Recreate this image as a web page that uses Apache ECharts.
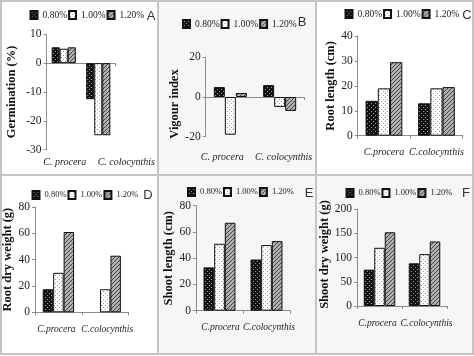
<!DOCTYPE html>
<html><head><meta charset="utf-8">
<script src="https://cdn.jsdelivr.net/npm/echarts@6/dist/echarts.min.js"></script>
<style>html,body{margin:0;padding:0;background:#fff}#c{width:474px;height:356px}</style>
</head><body><div id="c"></div>
<script>
const categoriesAB = ['C. procera', 'C. colocynthis'];
const categoriesCF = ['C.procera', 'C.colocynthis'];
const seriesNames = ['0.80%', '1.00%', '1.20%'];
// A: Germination (%)
const germ080 = [5.5, -12.5];
const germ100 = [5, -25];
const germ120 = [5.5, -25];
// B: Vigour index
const vig080 = [5, 6];
const vig100 = [-19, -5];
const vig120 = [2, -7];
// C: Root length (cm)
const rl080 = [14, 13];
const rl100 = [19, 19];
const rl120 = [29.5, 19.5];
// D: Root dry weight (g)
const rdw080 = [17.5, null];
const rdw100 = [30, 17.5];
const rdw120 = [61, 43];
// E: Shoot length (cm)
const sl080 = [33, 39];
const sl100 = [51, 50];
const sl120 = [67, 53];
// F: Shoot dry weight (g)
const sdw080 = [75, 88];
const sdw100 = [120, 107];
const sdw120 = [152, 133];

function makePattern(kind) {
  const c = document.createElement('canvas');
  c.width = 4; c.height = 4;
  const g = c.getContext('2d');
  if (kind === 0) {
    g.fillStyle = '#111'; g.fillRect(0, 0, 4, 4);
    g.fillStyle = '#9a9a9a'; g.fillRect(1, 1, 1, 1); g.fillRect(3, 3, 1, 1);
  } else if (kind === 1) {
    g.fillStyle = '#fff'; g.fillRect(0, 0, 4, 4);
    g.fillStyle = '#999'; g.fillRect(1, 1, 1, 1); g.fillRect(3, 3, 1, 1);
  } else {
    g.fillStyle = '#b0b0b0'; g.fillRect(0, 0, 4, 4);
    g.fillStyle = '#444';
    for (let i = 0; i < 4; i++) g.fillRect(i, 3 - i, 1, 1);
  }
  return { image: c, repeat: 'repeat' };
}
const patterns = [makePattern(0), makePattern(1), makePattern(2)];

const serif = 'Liberation Serif';
const panels = [
  { key: 'A', cats: categoriesAB, data: [germ080, germ100, germ120], min: -30, max: 10, interval: 10,
    name: 'Germination (%)', grid: { left: 46.5, top: 34.3, width: 69, height: 115.4 }, gap: '30%', nameGap: 28,
    zeroAxis: true, labelPad: [2, 56], labelMargin: 8, labelSize: 10, namePad: [0, 0, 0, 0],
    legend: { left: 29.5, top: 10, size: 9.5 }, letter: [151, 16] },
  { key: 'B', cats: categoriesAB, data: [vig080, vig100, vig120], min: -20, max: 20, interval: 20,
    name: 'Vigour index', grid: { left: 205.7, top: 57.3, width: 98.6, height: 79.4 }, gap: '33%', nameGap: 14,
    zeroAxis: true, labelPad: [-16, 8], labelMargin: 16, labelSize: 10, namePad: [0, 14, 0, 0],
    legend: { left: 182, top: 19, size: 9.5 }, letter: [302, 22] },
  { key: 'C', cats: categoriesCF, data: [rl080, rl100, rl120], min: 0, max: 40, interval: 10,
    name: 'Root length (cm)', grid: { left: 357.7, top: 36, width: 105, height: 99.7 }, gap: '30%', nameGap: 17,
    labelPad: [0, 0], labelMargin: 12, labelSize: 10, namePad: [0, 0, 0, 0],
    legend: { left: 344.5, top: 9, size: 9.5 }, letter: [467, 15] },
  { key: 'D', cats: categoriesCF, data: [rdw080, rdw100, rdw120], min: 0, max: 80, interval: 20,
    name: 'Root dry weight (g)', grid: { left: 35, top: 207, width: 93.6, height: 105.3 }, gap: '33%', nameGap: 12,
    labelPad: [-4, 4], labelMargin: 12, labelSize: 9.5, namePad: [0, 0, 0, 0],
    legend: { left: 31.5, top: 190, size: 8.5 }, letter: [148, 195] },
  { key: 'E', cats: categoriesCF, data: [sl080, sl100, sl120], min: 0, max: 80, interval: 20,
    name: 'Shoot length (cm)', grid: { left: 196, top: 205.7, width: 94, height: 105 }, gap: '32%', nameGap: 19,
    labelPad: [2, 5], labelMargin: 12, labelSize: 9.5, namePad: [0, 0, 0, 0],
    legend: { left: 187, top: 187, size: 8.5 }, letter: [309, 193] },
  { key: 'F', cats: categoriesCF, data: [sdw080, sdw100, sdw120], min: 0, max: 200, interval: 50,
    name: 'Shoot dry weight (g)', grid: { left: 357, top: 209, width: 90, height: 97 }, gap: '30%', nameGap: 21,
    labelPad: [-4, 4], labelMargin: 12, labelSize: 9.5, namePad: [0, 0, 0, 6],
    legend: { left: 345.5, top: 188, size: 8.5 }, letter: [466, 193] }
];

const option = { animation: false, backgroundColor: 'transparent', grid: [], xAxis: [], yAxis: [], series: [], legend: [], graphic: [] };

const bgs = [
  { x: 1, y: 1, w: 157, h: 174, c: '#ffffff' },
  { x: 158, y: 1, w: 158, h: 174, c: '#f6f6f6' },
  { x: 316, y: 1, w: 157, h: 174, c: '#ffffff' },
  { x: 1, y: 175, w: 157, h: 179, c: '#ffffff' },
  { x: 158, y: 175, w: 158, h: 179, c: '#f6f6f6' },
  { x: 316, y: 175, w: 157, h: 179, c: '#f6f6f6' }
];
bgs.forEach(b => option.graphic.push({ type: 'rect', z: -10, shape: { x: b.x, y: b.y, width: b.w, height: b.h },
  style: { fill: b.c, stroke: '#c4c4c4', lineWidth: 2 } }));

const axisColor = '#8c8c8c';
panels.forEach((p, i) => {
  const labelFont = { fontFamily: serif, fontStyle: 'italic', fontSize: p.labelSize, color: '#222' };
  const pad = v => v < 0 ? [0, -v, 0, 0] : [0, 0, 0, v];
  const richLabel = Object.assign({
    show: true, interval: 0, margin: p.labelMargin,
    formatter: (v, idx) => '{s' + idx + '|' + v + '}',
    rich: {
      s0: Object.assign({ padding: pad(p.labelPad[0]) }, labelFont),
      s1: Object.assign({ padding: pad(p.labelPad[1]) }, labelFont)
    }
  }, labelFont);
  option.grid.push(Object.assign({ containLabel: false }, p.grid));
  const xi = option.xAxis.length;
  option.xAxis.push({
    type: 'category', gridIndex: i, data: p.cats,
    axisLine: { show: true, onZero: true, lineStyle: { color: axisColor } },
    axisTick: { show: true, length: 3, lineStyle: { color: axisColor } },
    axisLabel: p.zeroAxis ? { show: false } : richLabel
  });
  if (p.zeroAxis) {
    option.xAxis.push({
      type: 'category', gridIndex: i, data: p.cats, position: 'bottom',
      axisLine: { show: false, onZero: false }, axisTick: { show: false },
      axisLabel: richLabel
    });
  }
  option.yAxis.push({
    type: 'value', gridIndex: i, min: p.min, max: p.max, interval: p.interval,
    splitLine: { show: false },
    axisLine: { show: true, lineStyle: { color: axisColor } },
    axisTick: { show: true, length: 3, lineStyle: { color: axisColor } },
    axisLabel: { fontFamily: serif, fontSize: 11.5, color: '#222', margin: 5 },
    name: p.name, nameLocation: 'middle', nameRotate: 90, nameGap: p.nameGap,
    nameTextStyle: { fontFamily: serif, fontWeight: 'bold', fontSize: 12.5, color: '#111', padding: p.namePad }
  });
  p.data.forEach((arr, k) => {
    option.series.push({
      type: 'bar', name: seriesNames[k], xAxisIndex: xi, yAxisIndex: i, data: arr,
      barGap: '0%', barCategoryGap: p.gap,
      itemStyle: { color: patterns[k], borderColor: '#111', borderWidth: 1 }
    });
  });
  option.legend.push({
    data: seriesNames, left: p.legend.left, top: p.legend.top, width: 150, orient: 'horizontal',
    icon: 'rect', itemWidth: 7, itemHeight: 8, itemGap: 1, padding: 0,
    selectedMode: false,
    textStyle: { fontFamily: serif, fontSize: p.legend.size, color: '#222' }
  });
  option.graphic.push({ type: 'text', x: p.letter[0], y: p.letter[1],
    style: { text: p.key, fontFamily: 'Liberation Sans', fontSize: 13, fill: '#333', textAlign: 'center', textVerticalAlign: 'middle' } });
});

const chart = echarts.init(document.getElementById('c'), null, { renderer: 'canvas' });
chart.setOption(option);
</script></body></html>
